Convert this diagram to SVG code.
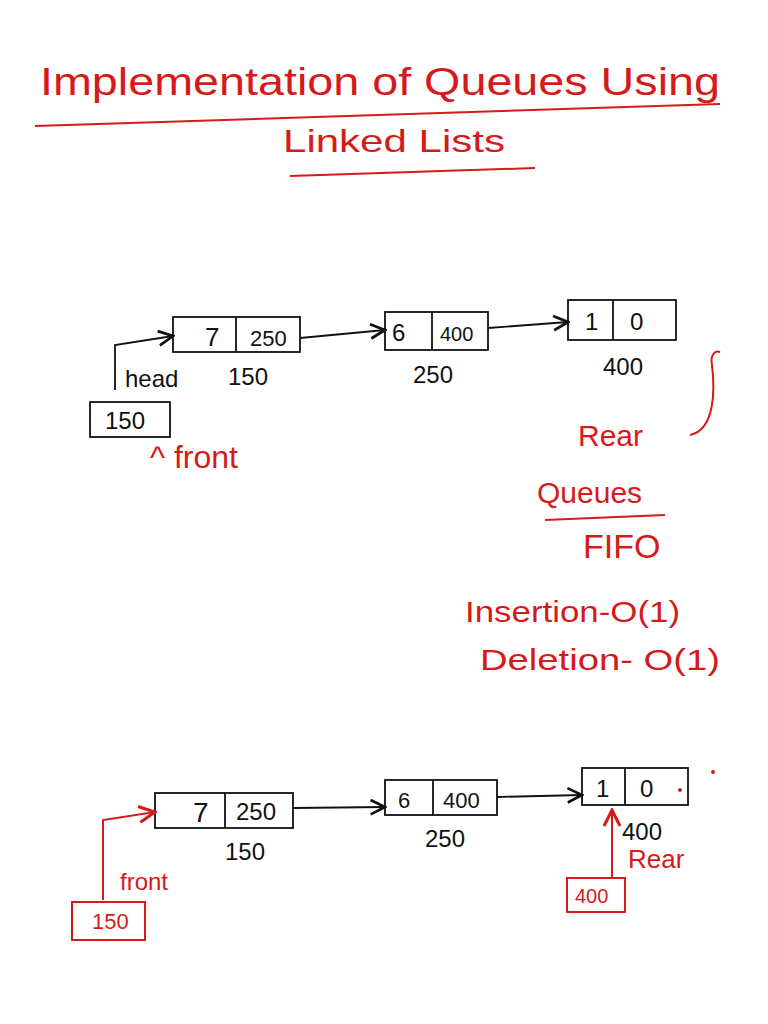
<svg xmlns="http://www.w3.org/2000/svg" width="768" height="1024" viewBox="0 0 768 1024">
<style>
.r{fill:#d61a1a;font-family:"Liberation Sans",sans-serif}
.k{fill:#111;font-family:"Liberation Sans",sans-serif}
.lr{stroke:#d61a1a;stroke-width:2;fill:none}
.lk{stroke:#111;stroke-width:1.8;fill:none}
</style>
<defs>
<marker id="ak" markerWidth="10" markerHeight="10" refX="9" refY="5" orient="auto"><path d="M1,1 L9,5 L1,9" fill="none" stroke="#111" stroke-width="1.5"/></marker>
<marker id="ar" markerWidth="10" markerHeight="10" refX="9" refY="5" orient="auto"><path d="M1,1 L9,5 L1,9" fill="none" stroke="#d61a1a" stroke-width="1.5"/></marker>
</defs>
<rect width="768" height="1024" fill="#fff"/>
<g id="title">
<text class="r" x="40" y="95" font-size="38" textLength="680" lengthAdjust="spacingAndGlyphs">Implementation of Queues Using</text>
<path class="lr" d="M35,126 L720,104"/>
<text class="r" x="283" y="152" font-size="32" textLength="222" lengthAdjust="spacingAndGlyphs">Linked Lists</text>
<path class="lr" d="M290,176 L535,168"/>
</g>
<g id="top-node1"><rect class="lk" x="173" y="317" width="127" height="35"/><path class="lk" d="M236,317V352"/><text class="k" x="205" y="346" font-size="26">7</text><text class="k" x="250" y="346" font-size="22">250</text></g>
<g id="top-node2"><rect class="lk" x="385" y="312" width="103" height="38"/><path class="lk" d="M432,312V350"/><text class="k" x="392" y="341" font-size="24">6</text><text class="k" x="440" y="341" font-size="20">400</text></g>
<g id="top-node3"><rect class="lk" x="568" y="300" width="108" height="40"/><path class="lk" d="M613,300V340"/><text class="k" x="585" y="330" font-size="24">1</text><text class="k" x="630" y="330" font-size="24">0</text></g>
<g id="top-head"><rect class="lk" x="90" y="402" width="80" height="35"/><text class="k" x="105" y="429" font-size="24">150</text></g>
<g id="top-labels">
<text class="k" x="125" y="387" font-size="24">head</text>
<text class="k" x="228" y="385" font-size="24">150</text>
<text class="k" x="413" y="383" font-size="24">250</text>
<text class="k" x="603" y="375" font-size="24">400</text>
<text class="r" x="150" y="468" font-size="32">^ front</text>
<text class="r" x="578" y="446" font-size="30">Rear</text>
<path class="lr" d="M690,435 C715,430 715,390 712,365 C710,355 715,350 720,352"/>
</g>
<g id="notes">
<text class="r" x="537" y="503" font-size="30">Queues</text>
<path class="lr" d="M545,520 L665,515"/>
<text class="r" x="583" y="558" font-size="34">FIFO</text>
<text class="r" x="465" y="622" font-size="30" textLength="215" lengthAdjust="spacingAndGlyphs">Insertion-O(1)</text>
<text class="r" x="480" y="670" font-size="30" textLength="240" lengthAdjust="spacingAndGlyphs">Deletion- O(1)</text>
</g>
<g id="bot-node1"><rect class="lk" x="155" y="793" width="138" height="35"/><path class="lk" d="M225,793V828"/><text class="k" x="193" y="822" font-size="28">7</text><text class="k" x="236" y="820" font-size="24">250</text></g>
<g id="bot-node2"><rect class="lk" x="385" y="780" width="112" height="35"/><path class="lk" d="M433,780V815"/><text class="k" x="398" y="808" font-size="22">6</text><text class="k" x="443" y="808" font-size="22">400</text></g>
<g id="bot-node3"><rect class="lk" x="582" y="768" width="106" height="37"/><path class="lk" d="M625,768V805"/><text class="k" x="596" y="797" font-size="24">1</text><text class="k" x="640" y="797" font-size="24">0</text><circle cx="680" cy="790" r="2" fill="#d61a1a"/></g>
<circle cx="713" cy="772" r="2" fill="#d61a1a"/>
<g id="bot-front"><rect class="lr" x="72" y="902" width="73" height="38"/><text class="r" x="92" y="929" font-size="22">150</text></g>
<g id="bot-rear"><rect class="lr" x="567" y="878" width="58" height="34"/><text class="r" x="575" y="903" font-size="20">400</text></g>
<g id="bot-labels">
<text class="k" x="225" y="860" font-size="24">150</text>
<text class="k" x="425" y="847" font-size="24">250</text>
<text class="k" x="622" y="840" font-size="24">400</text>
<text class="r" x="628" y="868" font-size="26">Rear</text>
<text class="r" x="120" y="890" font-size="24">front</text>
</g>
<g id="connectors">
<path class="lk" d="M300,338 L385,330" marker-end="url(#ak)"/>
<path class="lk" d="M488,328 L568,322" marker-end="url(#ak)"/>
<path class="lk" d="M115,390 L115,345 L173,336" marker-end="url(#ak)"/>
<path class="lk" d="M293,808 L385,807" marker-end="url(#ak)"/>
<path class="lk" d="M497,797 L582,795" marker-end="url(#ak)"/>
<path class="lr" d="M103,900 L103,820 L155,812" marker-end="url(#ar)"/>
<path class="lr" d="M612,878 L612,810" marker-end="url(#ar)"/>
</g>
</svg>
